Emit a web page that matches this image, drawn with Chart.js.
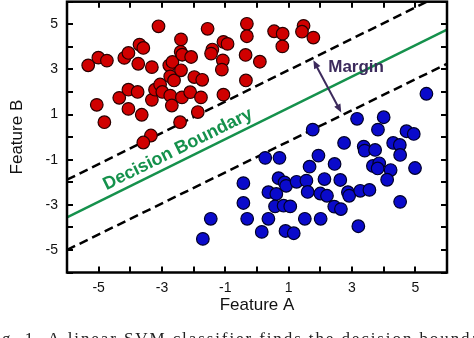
<!DOCTYPE html>
<html>
<head>
<meta charset="utf-8">
<script src="https://cdn.jsdelivr.net/npm/chart.js@4.4.1/dist/chart.umd.min.js"></script>
<style>
html, body { margin: 0; padding: 0; background: #fff; }
</style>
</head>
<body>
<canvas id="chart" width="474" height="338"></canvas>
<script>
'use strict';

// class 1 (red, upper left)
var redX = [-5.33, -5.01, -4.74, -5.06, -4.82, -4.35, -4.19, -4.06, -4.06, -4.06, -3.75, -3.71, -3.59, -3.77, -3.64,
    -3.32, -3.32, -3.35, -3.59, -3.22, -3.11, -3.06, -2.99, -2.74, -2.77, -2.67, -2.69, -2.74, -2.62, -2.41,
    -2.40, -2.36, -2.40, -2.37, -2.43, -2.08, -2.11, -1.98, -1.77, -1.87, -1.73, -1.56, -1.41, -1.45, -1.08,
    -1.06, -0.93, -1.11, -1.06, -0.32, -0.32, 0.54, 0.81, 1.47, 1.42, 1.78, 0.80, -0.36, 0.09, -0.35];
var redY = [3.18, 3.52, 3.39, 1.43, 0.66, 1.74, 3.51, 3.73, 2.10, 1.25, 3.25, 4.10, 3.95, 2.00, 0.99,
    3.10, 1.65, 0.07, -0.24, 2.10, 4.91, 2.33, 2.00, 1.84, 3.18, 3.33, 1.40, 2.69, 2.51, 3.78,
    4.33, 3.65, 2.96, 1.76, 0.66, 3.55, 1.99, 2.66, 1.76, 1.11, 2.54, 4.80, 3.88, 3.70, 3.40,
    4.22, 4.13, 2.99, 1.88, 5.02, 4.47, 4.69, 4.58, 4.93, 4.67, 4.41, 4.02, 3.64, 3.34, 2.51];

// class 2 (blue, lower right)
var blueX = [5.35, 3.16, 4.00, 1.76, 3.82, 4.72, 4.95, 2.75, 3.37, 3.40, 3.73, 4.30, 4.51, 4.52, 0.26,
    0.71, 1.94, 2.45, 1.66, 3.66, 3.86, 3.81, 4.22, 4.11, 4.99, -0.43, 0.68, 0.87, 0.92, 1.25,
    1.56, 2.13, 2.63, 0.36, 0.61, 1.60, 2.00, 2.21, 2.87, 2.91, 3.26, 3.55, -0.43, 0.57, 0.84,
    1.05, 2.44, 2.65, 4.52, -1.46, -0.31, 0.36, 1.51, 2.01, -1.71, 0.15, 0.90, 1.16, 3.20];
var blueY = [1.92, 0.81, 0.88, 0.33, 0.33, 0.26, 0.14, -0.26, -0.42, -0.60, -0.57, -0.26, -0.35, -0.79, -0.92,
    -0.92, -0.82, -1.19, -1.31, -1.28, -1.16, -1.39, -1.46, -1.89, -1.37, -2.04, -1.82, -2.01, -2.16, -1.98,
    -1.93, -1.86, -1.90, -2.44, -2.52, -2.43, -2.50, -2.60, -2.44, -2.60, -2.38, -2.34, -2.92, -3.07, -3.04,
    -3.07, -3.08, -3.19, -2.87, -3.62, -3.62, -3.62, -3.62, -3.62, -4.51, -4.20, -4.16, -4.26, -3.95];

// boundary and margin lines (x from -6 to 6)
var lineX = [-6, 6];
var boundaryY = [-3.56, 4.76];
var upperY = [-1.89, 6.44];
var lowerY = [-5.0, 3.25];

// margin arrow ends
var marginFrom = [1.78, 3.40];
var marginTo = [2.66, 1.09];

var tickLabels = [-5, -3, -1, 1, 3, 5];

function toPoints(xs, ys) {
    return xs.map(function(x, i) { return { x: x, y: ys[i] }; });
}

Chart.defaults.font.family = "'Liberation Sans', Arial, sans-serif";
Chart.defaults.color = '#111';

var extras = {
    id: 'extras',
    afterDatasetsDraw: function(chart) {
        var ctx = chart.ctx;
        var xs = chart.scales.x, ys = chart.scales.y;
        var a = chart.chartArea;

        ctx.save();
        ctx.strokeStyle = '#000';
        ctx.lineWidth = 2;
        // inward ticks on all four sides
        xs.ticks.forEach(function(t) {
            var px = Math.round(xs.getPixelForValue(t.value));
            ctx.beginPath();
            ctx.moveTo(px, a.bottom); ctx.lineTo(px, a.bottom - 6);
            ctx.moveTo(px, a.top); ctx.lineTo(px, a.top + 6);
            ctx.stroke();
        });
        ys.ticks.forEach(function(t) {
            var py = Math.round(ys.getPixelForValue(t.value));
            ctx.beginPath();
            ctx.moveTo(a.left, py); ctx.lineTo(a.left + 6, py);
            ctx.moveTo(a.right, py); ctx.lineTo(a.right - 6, py);
            ctx.stroke();
        });
        ctx.lineWidth = 2.5;
        ctx.strokeRect(a.left, a.top, a.right - a.left, a.bottom - a.top);

        // margin arrow
        var x1 = xs.getPixelForValue(marginFrom[0]), y1 = ys.getPixelForValue(marginFrom[1]);
        var x2 = xs.getPixelForValue(marginTo[0]), y2 = ys.getPixelForValue(marginTo[1]);
        var ang = Math.atan2(y2 - y1, x2 - x1);
        ctx.strokeStyle = '#3c2a5c';
        ctx.fillStyle = '#3c2a5c';
        ctx.lineWidth = 2;
        ctx.beginPath();
        ctx.moveTo(x1 + 6 * Math.cos(ang), y1 + 6 * Math.sin(ang));
        ctx.lineTo(x2 - 6 * Math.cos(ang), y2 - 6 * Math.sin(ang));
        ctx.stroke();
        [[x1, y1, ang + Math.PI], [x2, y2, ang]].forEach(function(h) {
            ctx.beginPath();
            ctx.moveTo(h[0], h[1]);
            ctx.lineTo(h[0] - 9 * Math.cos(h[2] - 0.4), h[1] - 9 * Math.sin(h[2] - 0.4));
            ctx.lineTo(h[0] - 9 * Math.cos(h[2] + 0.4), h[1] - 9 * Math.sin(h[2] + 0.4));
            ctx.closePath();
            ctx.fill();
        });

        ctx.font = "bold 17px 'Liberation Sans', Arial, sans-serif";
        ctx.textAlign = 'left';
        ctx.textBaseline = 'middle';
        ctx.fillText('Margin', xs.getPixelForValue(2.25), ys.getPixelForValue(3.09));

        // boundary label, rotated along the line
        var bx1 = xs.getPixelForValue(lineX[0]), by1 = ys.getPixelForValue(boundaryY[0]);
        var bx2 = xs.getPixelForValue(lineX[1]), by2 = ys.getPixelForValue(boundaryY[1]);
        ctx.translate(xs.getPixelForValue(-4.75), ys.getPixelForValue(-2.35));
        ctx.rotate(Math.atan2(by2 - by1, bx2 - bx1));
        ctx.font = "bold 18px 'Liberation Sans', Arial, sans-serif";
        ctx.fillStyle = '#15914c';
        ctx.textBaseline = 'alphabetic';
        ctx.fillText('Decision Boundary', 0, 0);
        ctx.restore();
    },
    afterDraw: function(chart) {
        var ctx = chart.ctx;
        ctx.save();
        ctx.fillStyle = '#222';
        ctx.font = "17px 'Liberation Serif', 'Times New Roman', serif";
        ctx.letterSpacing = '1.9px';
        ctx.textBaseline = 'alphabetic';
        ctx.fillText('Fig. 1. A linear SVM classifier finds the decision boundary', -16, 344);
        ctx.restore();
    }
};

new Chart(document.getElementById('chart'), {
    type: 'scatter',
    data: {
        datasets: [{
            data: toPoints(redX, redY),
            backgroundColor: '#d00000',
            borderColor: '#2a0000',
            borderWidth: 1.2,
            pointRadius: 6.3
        }, {
            data: toPoints(blueX, blueY),
            backgroundColor: '#0a0acb',
            borderColor: '#000028',
            borderWidth: 1.2,
            pointRadius: 6.3
        }, {
            data: toPoints(lineX, boundaryY),
            showLine: true,
            pointRadius: 0,
            borderColor: '#15914c',
            borderWidth: 2.5,
            clip: 0
        }, {
            data: toPoints(lineX, upperY),
            showLine: true,
            pointRadius: 0,
            borderColor: '#000',
            borderWidth: 2.5,
            borderDash: [9, 5],
            clip: 0
        }, {
            data: toPoints(lineX, lowerY),
            showLine: true,
            pointRadius: 0,
            borderColor: '#000',
            borderWidth: 2.5,
            borderDash: [9, 5],
            clip: 0
        }]
    },
    options: {
        responsive: false,
        animation: false,
        events: [],
        layout: { autoPadding: false, padding: { top: 1.7, right: 27, bottom: 0, left: 0 } },
        plugins: {
            legend: { display: false },
            tooltip: { enabled: false }
        },
        scales: {
            x: {
                min: -6,
                max: 6,
                grid: { display: false, drawTicks: false },
                border: { display: false },
                ticks: {
                    stepSize: 1,
                    padding: 7,
                    font: { size: 14 },
                    color: '#111',
                    autoSkip: false,
                    maxRotation: 0,
                    callback: function(v) { return tickLabels.indexOf(v) >= 0 ? String(v) : ''; }
                },
                title: {
                    display: true,
                    text: 'Feature A',
                    font: { size: 17 },
                    color: '#111',
                    padding: { top: 0, bottom: 22 }
                },
                afterFit: function(scale) {
                    scale.height = 65.5;
                    scale.paddingLeft = 0;
                    scale.paddingRight = 0;
                }
            },
            y: {
                min: -6,
                max: 6,
                grid: { display: false, drawTicks: false },
                border: { display: false },
                ticks: {
                    stepSize: 1,
                    padding: 9,
                    font: { size: 14 },
                    color: '#111',
                    autoSkip: false,
                    callback: function(v) { return tickLabels.indexOf(v) >= 0 ? String(v) : ''; }
                },
                title: {
                    display: true,
                    text: 'Feature B',
                    font: { size: 17 },
                    color: '#111',
                    padding: { top: 7, bottom: 0 }
                },
                afterFit: function(scale) {
                    scale.width = 67;
                    scale.paddingTop = 0;
                    scale.paddingBottom = 0;
                }
            }
        }
    },
    plugins: [extras]
});
</script>
</body>
</html>
